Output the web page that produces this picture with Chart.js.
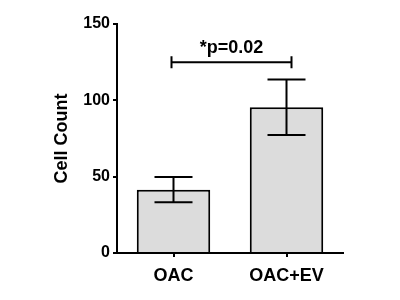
<!DOCTYPE html>
<html>
<head>
<meta charset="utf-8">
<script src="https://cdn.jsdelivr.net/npm/chart.js@4"></script>
<style>
  html, body { margin: 0; padding: 0; background: #fff; }
  #wrap { width: 400px; height: 300px; }
</style>
</head>
<body>
<div id="wrap"><canvas id="cellChart"></canvas></div>
<script>
// data
const categories = ["OAC", "OAC+EV"];
const means = [41.5, 95.5];
const sem = [8.3, 18.2];
const yTicks = [0, 50, 100, 150];
const sigLabel = "*p=0.02";
const sigLevel = 125;

const FONT = "'Liberation Sans', Arial, sans-serif";

// error bars + significance bracket, drawn through the chart scales
const extras = {
  id: "extras",
  afterDatasetsDraw(chart) {
    const { ctx, scales } = chart;
    const x = scales.x, y = scales.y;
    ctx.save();
    ctx.strokeStyle = "#000";
    ctx.lineWidth = 2;
    means.forEach((m, i) => {
      const cx = x.getPixelForValue(i);
      const top = y.getPixelForValue(m + sem[i]);
      const bot = y.getPixelForValue(m - sem[i]);
      ctx.beginPath();
      ctx.moveTo(cx, top); ctx.lineTo(cx, bot);
      ctx.moveTo(cx - 19, top); ctx.lineTo(cx + 19, top);
      ctx.moveTo(cx - 19, bot); ctx.lineTo(cx + 19, bot);
      ctx.stroke();
    });
    // bracket
    const x0 = x.getPixelForValue(0) - 2;
    const x1 = x.getPixelForValue(1) + 5;
    const by = y.getPixelForValue(sigLevel);
    ctx.beginPath();
    ctx.moveTo(x0, by); ctx.lineTo(x1, by);
    ctx.moveTo(x0, by - 6); ctx.lineTo(x0, by + 6);
    ctx.moveTo(x1, by - 6); ctx.lineTo(x1, by + 6);
    ctx.stroke();
    ctx.fillStyle = "#000";
    ctx.font = "bold 18px " + FONT;
    ctx.textAlign = "center";
    ctx.textBaseline = "alphabetic";
    ctx.fillText(sigLabel, (x0 + x1) / 2, by - 9);
    ctx.restore();
  }
};

new Chart(document.getElementById("cellChart"), {
  type: "bar",
  data: {
    labels: categories,
    datasets: [{
      data: means,
      backgroundColor: "#dcdcdc",
      borderColor: "#000",
      borderWidth: 2,
      categoryPercentage: 1,
      barPercentage: 0.65
    }]
  },
  options: {
    responsive: true,
    maintainAspectRatio: false,
    animation: false,
    layout: { padding: { left: 47, right: 57, top: 24, bottom: 0 } },
    plugins: {
      legend: { display: false },
      tooltip: { enabled: false }
    },
    scales: {
      x: {
        grid: { display: true, drawOnChartArea: false, offset: false, color: "#000", lineWidth: 2, tickLength: 4 },
        border: { color: "#000", width: 2 },
        ticks: { color: "#000", font: { family: FONT, size: 18, weight: "bold" }, padding: 8 },
        afterFit(scale) { scale.height = 47; }
      },
      y: {
        min: 0,
        max: 150,
        afterBuildTicks(scale) { scale.ticks = yTicks.map(v => ({ value: v })); },
        grid: { display: true, drawOnChartArea: false, color: "#000", lineWidth: 2, tickLength: 4 },
        border: { color: "#000", width: 2 },
        ticks: { color: "#000", font: { family: FONT, size: 16, weight: "bold" }, padding: 3 },
        title: {
          display: true,
          text: "Cell Count",
          color: "#000",
          font: { family: FONT, size: 18, weight: "bold" }
        },
        afterFit(scale) { scale.width = 70; }
      }
    }
  },
  plugins: [extras]
});
</script>
</body>
</html>
